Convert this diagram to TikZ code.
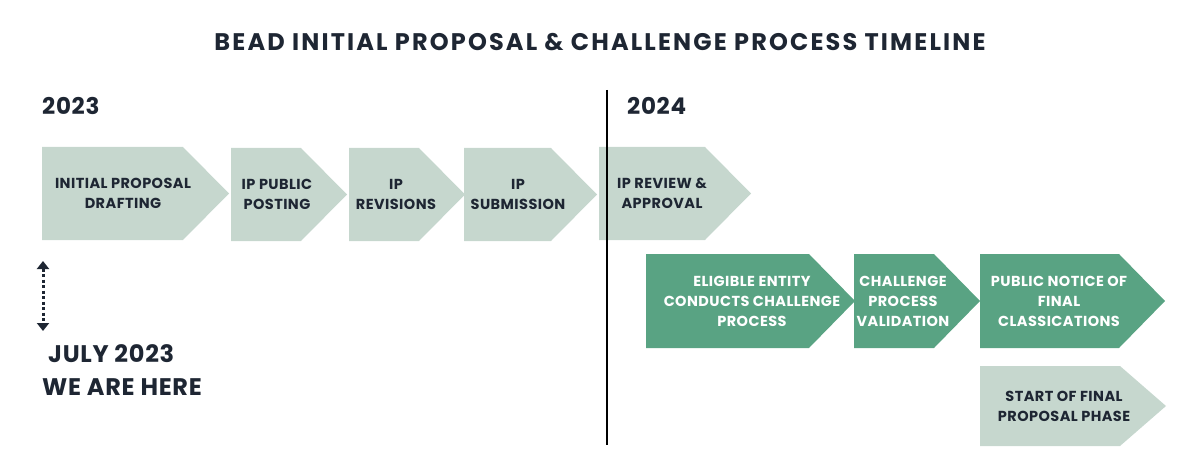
\documentclass[tikz,border=0pt]{standalone}
\usepackage{fontspec}
\setmainfont{Poppins}
\usetikzlibrary{arrows.meta}
\definecolor{sage}{HTML}{C6D7CE}
\definecolor{grn}{HTML}{59A383}
\definecolor{ink}{HTML}{1E2633}
\tikzset{
  lbl/.style={font=\fontsize{14.5}{20}\selectfont\bfseries\addfontfeatures{LetterSpace=3}, align=center, text=ink, inner sep=0pt},
  wlbl/.style={lbl, text=white},
  yr/.style={text=ink,font=\fontsize{23}{25}\selectfont\bfseries\addfontfeatures{LetterSpace=3},anchor=west,inner sep=0pt},
}
% \chev{name}{x1}{xtip}{ytop}{ybot}{color}{style}{textx}{text}
\newcommand{\chev}[9]{%
  \fill[#6] (#2,#4) -- ({#3-46},#4) -- (#3,{(#4+#5)/2}) -- ({#3-46},#5) -- (#2,#5) -- cycle;
  \node[#7] (#1) at (#8,{(#4+#5)/2}) {#9};
}
\begin{document}
\begin{tikzpicture}[x=1pt,y=-1pt]
\useasboundingbox (0,0) rectangle (1200,476);
\node[text=ink,font=\fontsize{24}{25}\selectfont\bfseries\addfontfeatures{LetterSpace=9}] (title) at (600,42) {BEAD INITIAL PROPOSAL \& CHALLENGE PROCESS TIMELINE};
\node[yr] (y23) at (42,106) {2023};
\node[yr] (y24) at (627,106) {2024};
\chev{a}{42}{229}{147}{240}{sage}{lbl}{123}{INITIAL PROPOSAL\\DRAFTING}
\chev{b}{231}{347}{148}{241}{sage}{lbl}{277}{IP PUBLIC\\POSTING}
\chev{c}{349}{465}{148}{241}{sage}{lbl}{396}{IP\\REVISIONS}
\chev{d}{464}{597}{148}{241}{sage}{lbl}{518}{IP\\SUBMISSION}
\chev{e}{599}{751}{147}{240}{sage}{lbl}{662}{IP REVIEW \&\\APPROVAL}
\chev{f}{646}{855}{254}{348}{grn}{wlbl}{752}{ELIGIBLE ENTITY\\CONDUCTS CHALLENGE\\PROCESS}
\chev{g}{854}{980}{254}{348}{grn}{wlbl}{903}{CHALLENGE\\PROCESS\\VALIDATION}
\chev{h}{980}{1165}{254}{348}{grn}{wlbl}{1059}{PUBLIC NOTICE OF\\FINAL\\CLASSICATIONS}
\chev{i}{980}{1166}{366}{446}{sage}{lbl}{1064}{START OF FINAL\\PROPOSAL PHASE}
\coordinate (lt) at (607,90); \coordinate (lb) at (607,445);
\draw[line width=1.8pt,black] (lt) -- (lb);
\coordinate (dt) at (43,261); \coordinate (db) at (43,331);
\draw[ink,line width=3pt,dash pattern=on 3pt off 2.5pt,{Triangle[length=8pt,width=12pt]}-{Triangle[length=8pt,width=12pt]}] (dt) -- (db);
\node[text=ink,font=\fontsize{24}{33}\selectfont\bfseries\addfontfeatures{LetterSpace=3},anchor=north west,align=left,inner sep=0pt] (here) at (42,344) {\hspace*{6pt}JULY 2023\\WE ARE HERE};
\end{tikzpicture}
\end{document}
